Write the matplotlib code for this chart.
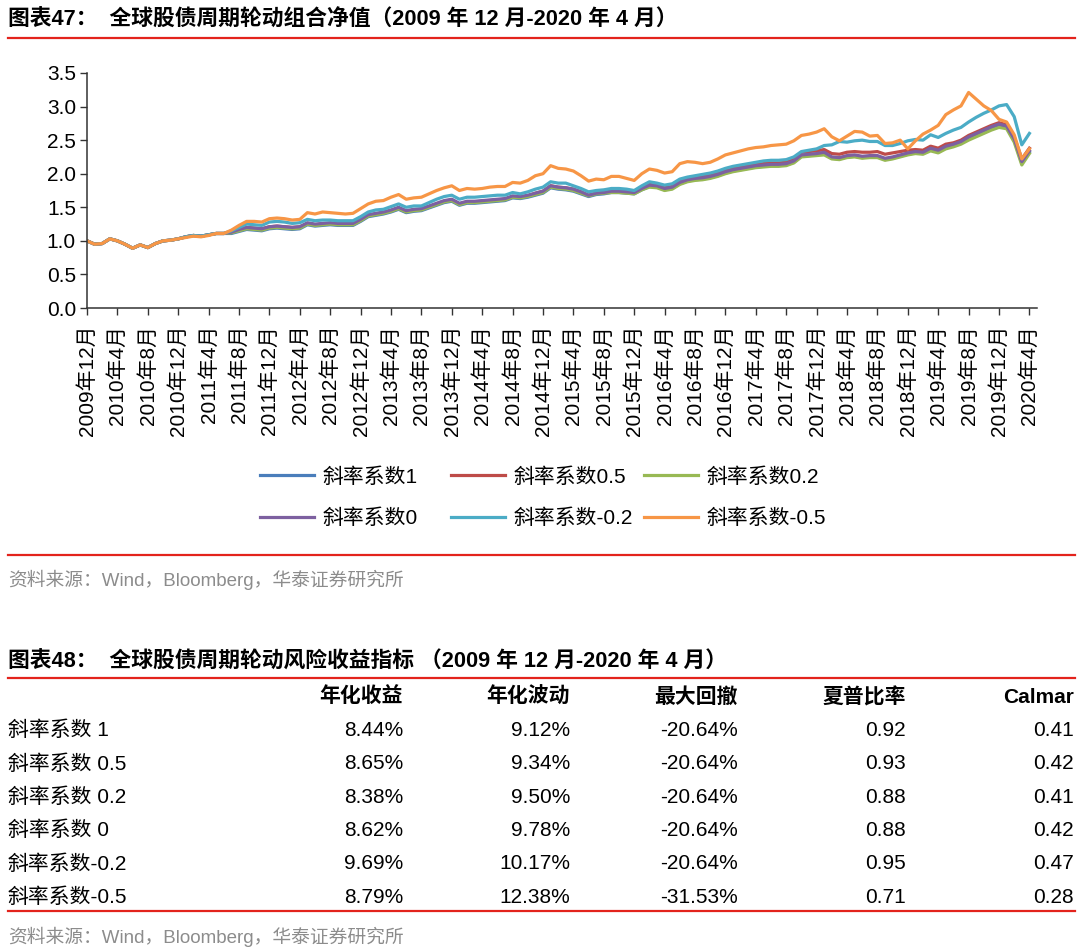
import numpy as np
import pandas as pd
import matplotlib
matplotlib.use('Agg')
import matplotlib.pyplot as plt
from matplotlib.lines import Line2D

# Latin text in Arial look-alike, Chinese falls back to Noto CJK
plt.rcParams['font.family'] = ['Liberation Sans', 'Noto Sans CJK SC']

# ---- chart data: monthly net value, 2009-12 .. 2020-04 ----
months = pd.date_range('2009-12-01', '2020-04-01', freq='MS')
tick_idx = np.arange(0, len(months), 4)
tick_labels = [f'{months[i].year}年{months[i].month}月' for i in tick_idx]

series_names = ['斜率系数1', '斜率系数0.5', '斜率系数0.2', '斜率系数0', '斜率系数-0.2', '斜率系数-0.5']
series_colors = ['#4A7EBB', '#BE4B48', '#98B954', '#7D60A0', '#4BACC6', '#F79646']

slope_1 = [
    1.00, 0.95, 0.96, 1.03, 1.00, 0.95, 0.89, 0.94, 0.90, 0.96,
    1.00, 1.01, 1.03, 1.06, 1.08, 1.07, 1.09, 1.11, 1.11, 1.11,
    1.14, 1.17, 1.16, 1.15, 1.18, 1.19, 1.18, 1.17, 1.18, 1.24,
    1.22, 1.23, 1.24, 1.23, 1.23, 1.23, 1.29, 1.36, 1.38, 1.40,
    1.43, 1.47, 1.42, 1.44, 1.45, 1.49, 1.53, 1.57, 1.59, 1.53,
    1.56, 1.56, 1.57, 1.58, 1.59, 1.60, 1.64, 1.63, 1.65, 1.68,
    1.71, 1.79, 1.77, 1.76, 1.74, 1.70, 1.66, 1.69, 1.70, 1.72,
    1.72, 1.71, 1.70, 1.76, 1.81, 1.80, 1.76, 1.78, 1.85, 1.89,
    1.91, 1.92, 1.94, 1.97, 2.01, 2.04, 2.06, 2.08, 2.10, 2.11,
    2.12, 2.12, 2.13, 2.17, 2.26, 2.27, 2.28, 2.30, 2.23, 2.22,
    2.25, 2.26, 2.24, 2.25, 2.25, 2.21, 2.23, 2.26, 2.29, 2.31,
    2.30, 2.36, 2.33, 2.39, 2.42, 2.46, 2.53, 2.58, 2.63, 2.68,
    2.72, 2.69, 2.50, 2.16, 2.32]

slope_05 = [
    1.00, 0.95, 0.96, 1.03, 1.00, 0.95, 0.89, 0.94, 0.90, 0.96,
    1.00, 1.01, 1.03, 1.06, 1.08, 1.07, 1.09, 1.11, 1.11, 1.13,
    1.17, 1.20, 1.19, 1.18, 1.21, 1.22, 1.21, 1.20, 1.21, 1.26,
    1.24, 1.25, 1.26, 1.25, 1.25, 1.25, 1.31, 1.38, 1.40, 1.42,
    1.45, 1.49, 1.44, 1.46, 1.47, 1.51, 1.55, 1.59, 1.61, 1.55,
    1.58, 1.58, 1.59, 1.60, 1.61, 1.62, 1.66, 1.65, 1.67, 1.71,
    1.74, 1.82, 1.80, 1.79, 1.77, 1.73, 1.68, 1.71, 1.72, 1.74,
    1.74, 1.73, 1.72, 1.78, 1.84, 1.83, 1.79, 1.81, 1.88, 1.93,
    1.95, 1.96, 1.98, 2.01, 2.05, 2.08, 2.10, 2.12, 2.14, 2.15,
    2.16, 2.16, 2.17, 2.22, 2.32, 2.33, 2.34, 2.36, 2.30, 2.29,
    2.32, 2.33, 2.32, 2.32, 2.33, 2.29, 2.31, 2.33, 2.35, 2.36,
    2.35, 2.41, 2.38, 2.44, 2.46, 2.50, 2.57, 2.62, 2.67, 2.72,
    2.76, 2.73, 2.55, 2.22, 2.38]

slope_02 = [
    1.00, 0.95, 0.96, 1.03, 1.00, 0.95, 0.89, 0.94, 0.90, 0.96,
    1.00, 1.01, 1.03, 1.06, 1.08, 1.07, 1.09, 1.11, 1.11, 1.12,
    1.15, 1.18, 1.17, 1.16, 1.19, 1.20, 1.19, 1.18, 1.19, 1.25,
    1.23, 1.24, 1.25, 1.24, 1.24, 1.24, 1.30, 1.37, 1.39, 1.41,
    1.44, 1.48, 1.43, 1.45, 1.46, 1.50, 1.54, 1.58, 1.60, 1.54,
    1.57, 1.57, 1.58, 1.59, 1.60, 1.61, 1.65, 1.64, 1.66, 1.69,
    1.72, 1.80, 1.78, 1.77, 1.75, 1.71, 1.67, 1.70, 1.71, 1.72,
    1.72, 1.71, 1.70, 1.76, 1.80, 1.79, 1.75, 1.77, 1.84, 1.88,
    1.90, 1.91, 1.93, 1.96, 2.00, 2.03, 2.05, 2.07, 2.09, 2.10,
    2.11, 2.11, 2.12, 2.16, 2.25, 2.26, 2.27, 2.28, 2.22, 2.21,
    2.24, 2.25, 2.23, 2.24, 2.24, 2.20, 2.22, 2.25, 2.28, 2.30,
    2.29, 2.34, 2.31, 2.37, 2.40, 2.44, 2.50, 2.55, 2.60, 2.65,
    2.69, 2.67, 2.47, 2.13, 2.30]

slope_0 = [
    1.00, 0.95, 0.96, 1.03, 1.00, 0.95, 0.89, 0.94, 0.90, 0.96,
    1.00, 1.01, 1.03, 1.06, 1.08, 1.07, 1.09, 1.11, 1.11, 1.13,
    1.17, 1.20, 1.19, 1.18, 1.21, 1.22, 1.21, 1.20, 1.21, 1.27,
    1.25, 1.26, 1.27, 1.26, 1.26, 1.26, 1.32, 1.39, 1.41, 1.43,
    1.46, 1.50, 1.45, 1.47, 1.48, 1.52, 1.56, 1.60, 1.62, 1.56,
    1.59, 1.59, 1.60, 1.61, 1.62, 1.63, 1.67, 1.66, 1.68, 1.71,
    1.74, 1.82, 1.80, 1.79, 1.77, 1.73, 1.68, 1.71, 1.72, 1.74,
    1.74, 1.73, 1.72, 1.78, 1.83, 1.82, 1.78, 1.80, 1.87, 1.91,
    1.93, 1.94, 1.96, 1.99, 2.03, 2.06, 2.08, 2.10, 2.12, 2.13,
    2.14, 2.14, 2.15, 2.19, 2.28, 2.29, 2.30, 2.32, 2.25, 2.24,
    2.27, 2.28, 2.26, 2.27, 2.27, 2.23, 2.25, 2.28, 2.31, 2.33,
    2.32, 2.38, 2.35, 2.41, 2.44, 2.48, 2.55, 2.60, 2.65, 2.70,
    2.74, 2.71, 2.52, 2.18, 2.34]

slope_m02 = [
    1.00, 0.95, 0.96, 1.03, 1.00, 0.95, 0.89, 0.94, 0.90, 0.96,
    1.00, 1.01, 1.03, 1.06, 1.08, 1.07, 1.09, 1.11, 1.11, 1.15,
    1.20, 1.25, 1.24, 1.23, 1.28, 1.29, 1.28, 1.26, 1.27, 1.32,
    1.30, 1.31, 1.31, 1.30, 1.30, 1.30, 1.36, 1.43, 1.46, 1.47,
    1.51, 1.55, 1.50, 1.52, 1.52, 1.57, 1.62, 1.66, 1.68, 1.62,
    1.65, 1.65, 1.66, 1.67, 1.68, 1.68, 1.72, 1.70, 1.73, 1.77,
    1.80, 1.88, 1.86, 1.86, 1.82, 1.78, 1.73, 1.75, 1.76, 1.78,
    1.78, 1.77, 1.75, 1.82, 1.88, 1.86, 1.83, 1.85, 1.92, 1.95,
    1.97, 1.99, 2.01, 2.04, 2.08, 2.11, 2.13, 2.15, 2.17, 2.19,
    2.20, 2.20, 2.21, 2.25, 2.33, 2.35, 2.37, 2.42, 2.43, 2.48,
    2.47, 2.49, 2.50, 2.48, 2.48, 2.42, 2.42, 2.45, 2.49, 2.51,
    2.50, 2.58, 2.54, 2.60, 2.65, 2.69, 2.77, 2.84, 2.90, 2.95,
    3.01, 3.03, 2.85, 2.43, 2.60]

slope_m05 = [
    1.00, 0.95, 0.96, 1.03, 1.00, 0.95, 0.89, 0.94, 0.90, 0.96,
    1.00, 1.01, 1.03, 1.05, 1.07, 1.06, 1.08, 1.11, 1.11, 1.16,
    1.23, 1.29, 1.29, 1.28, 1.33, 1.34, 1.33, 1.31, 1.32, 1.42,
    1.40, 1.43, 1.42, 1.41, 1.40, 1.41, 1.48, 1.55, 1.59, 1.60,
    1.65, 1.69, 1.62, 1.64, 1.65, 1.70, 1.75, 1.79, 1.82, 1.75,
    1.78, 1.77, 1.78, 1.80, 1.81, 1.81, 1.87, 1.86, 1.90, 1.97,
    2.00, 2.12, 2.08, 2.07, 2.04, 1.97, 1.89, 1.92, 1.91, 1.96,
    1.96, 1.93, 1.90, 2.00, 2.07, 2.05, 2.01, 2.03, 2.15, 2.18,
    2.17, 2.15, 2.17, 2.22, 2.28, 2.31, 2.34, 2.37, 2.39, 2.40,
    2.42, 2.43, 2.44, 2.49, 2.57, 2.59, 2.62, 2.67, 2.55, 2.49,
    2.56, 2.63, 2.62, 2.56, 2.57, 2.45, 2.46, 2.50, 2.37, 2.49,
    2.59, 2.65, 2.72, 2.88, 2.95, 3.01, 3.21, 3.11, 3.01, 2.94,
    2.81, 2.77, 2.58, 2.22, 2.37]

series_values = [slope_1, slope_05, slope_02, slope_0, slope_m02, slope_m05]

# ---- table data ----
table_header = ['年化收益', '年化波动', '最大回撤', '夏普比率', 'Calmar']
table_rows = ['斜率系数 1', '斜率系数 0.5', '斜率系数 0.2', '斜率系数 0', '斜率系数-0.2', '斜率系数-0.5']
annual_return = [8.44, 8.65, 8.38, 8.62, 9.69, 8.79]
annual_vol = [9.12, 9.34, 9.50, 9.78, 10.17, 12.38]
max_drawdown = [-20.64, -20.64, -20.64, -20.64, -20.64, -31.53]
sharpe = [0.92, 0.93, 0.88, 0.88, 0.95, 0.71]
calmar = [0.41, 0.42, 0.41, 0.42, 0.47, 0.28]

title1 = '图表47：  全球股债周期轮动组合净值（2009 年 12 月-2020 年 4 月）'
title2 = '图表48：  全球股债周期轮动风险收益指标 （2009 年 12 月-2020 年 4 月）'
source = '资料来源：Wind，Bloomberg，华泰证券研究所'

RED = '#E3231C'
W, H = 1080, 950

fig = plt.figure(figsize=(10.8, 9.5), dpi=100)


def hline(y_px):
    # red rule across the page
    fig.add_artist(Line2D([8 / W, 1075 / W], [1 - y_px / H] * 2,
                          transform=fig.transFigure, color=RED, lw=1.6))


# titles, rules and sources
fig.text(8 / W, 1 - 20 / H, title1, fontsize=15.7, fontweight='bold', va='center')
hline(38)
hline(555)
fig.text(8 / W, 1 - 580 / H, source, fontsize=13.5, color='#8C8C8C', va='center')
fig.text(8 / W, 1 - 662 / H, title2, fontsize=15.7, fontweight='bold', va='center')
hline(678)
hline(911)
fig.text(8 / W, 1 - 937 / H, source, fontsize=13.5, color='#8C8C8C', va='center')

# ---- line chart ----
ax = fig.add_axes([87 / W, 1 - 308 / H, 950 / W, 235 / H])
x = np.arange(len(months))
handles = []
for name, vals, color in zip(series_names, series_values, series_colors):
    h, = ax.plot(x, vals, color=color, lw=2.3, label=name, solid_joinstyle='round')
    handles.append(h)

ax.set_xlim(0, 125)
ax.set_ylim(0, 3.5)
ax.set_yticks(np.arange(0, 3.51, 0.5))
ax.set_yticklabels([f'{v:.1f}' for v in np.arange(0, 3.51, 0.5)])
ax.set_xticks(tick_idx)
ax.set_xticklabels(tick_labels, rotation=90)
ax.tick_params(axis='both', labelsize=15, length=5, width=1, direction='out', color='#333333')
ax.tick_params(axis='x', pad=7)
ax.tick_params(axis='y', pad=3)
for side in ['top', 'right']:
    ax.spines[side].set_visible(False)
for side in ['left', 'bottom']:
    ax.spines[side].set_color('#333333')
    ax.spines[side].set_linewidth(1.1)

# legend: three columns placed like the original
col_x = [260, 451, 644]
for c, xpx in enumerate(col_x):
    fig.legend(handles=[handles[c], handles[c + 3]], loc='upper left',
               bbox_to_anchor=(xpx / W, 1 - 467 / H), frameon=False,
               fontsize=15, handlelength=2.6, handletextpad=0.4,
               labelspacing=1.05, borderpad=0, borderaxespad=0)

# ---- table ----
axt = fig.add_axes([0, 1 - 913.8 / H, 1, 233.3 / H])
axt.set_xlim(0, W)
axt.set_ylim(6.5, -0.5)
axt.axis('off')

col_right = [403, 570, 738, 906, 1074]
for c, head in enumerate(table_header):
    axt.text(col_right[c], 0, head, fontsize=15, fontweight='bold', ha='right', va='center')

for r, label in enumerate(table_rows):
    y = r + 1
    axt.text(8, y, label, fontsize=15, ha='left', va='center')
    cells = [f'{annual_return[r]:.2f}%', f'{annual_vol[r]:.2f}%', f'{max_drawdown[r]:.2f}%',
             f'{sharpe[r]:.2f}', f'{calmar[r]:.2f}']
    for c, txt in enumerate(cells):
        axt.text(col_right[c], y, txt, fontsize=15, ha='right', va='center')

fig.savefig('out.png', dpi=100, facecolor='white')
